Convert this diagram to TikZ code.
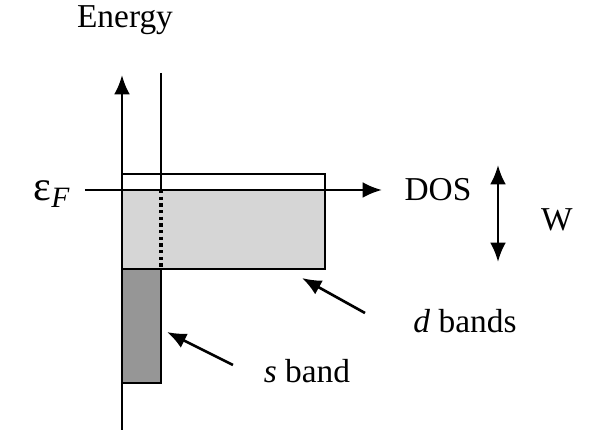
\documentclass[tikz,border=0pt]{standalone}
\usepackage{fontspec}
\setmainfont{Liberation Serif}
\usetikzlibrary{arrows.meta}
\definecolor{dbandGray}{RGB}{214,214,214}
\definecolor{sbandGray}{RGB}{150,150,150}

\begin{document}
\begin{tikzpicture}[line width=1.5pt,
  lbl/.style={font=\fontsize{19}{22}\selectfont, inner sep=0pt},
  tip/.style={-{Latex[length=11pt,width=9pt]}}]
  \useasboundingbox (-2.44,-5.1) rectangle (9.54,3.8);

  % 1. Bands
  \fill[dbandGray] (0,0) rectangle (4.06,-1.58);
  \fill[sbandGray] (0,-1.58) rectangle (0.78,-3.86);
  \draw (0,0.32) rectangle (4.06,-1.58);
  \draw (0,-1.58) rectangle (0.78,-3.86);

  % 2. Axes
  \coordinate (ebot) at (0,-4.8);
  \coordinate (etop) at (0,2.3);
  \coordinate (dleft) at (-0.74,0);
  \coordinate (dright) at (5.2,0);
  \draw[tip] (ebot) -- (etop);
  \draw[tip] (dleft) -- (dright);
  \draw (0.78,2.34) -- (0.78,0);
  \draw[dotted, line width=1.8pt] (0.78,0) -- (0.78,-1.58);

  % 3. Labels
  \node[lbl] (energy) at (0.06,3.4) {Energy};
  \node[lbl, font=\fontsize{24}{26}\selectfont] (fermi) at (-1.4,-0.08) {ε\textsubscript{\textit{F}}};
  \node[lbl] (dos) at (6.32,0) {DOS};
  \node[lbl] (wlabel) at (8.7,-0.6) {W};
  \node[lbl] (dband) at (6.86,-2.62) {\textit{d} bands};
  \node[lbl] (sband) at (3.7,-3.62) {\textit{s} band};

  % 4. Width W
  \coordinate (wtop) at (7.52,0.5);
  \coordinate (wbot) at (7.52,-1.44);
  \draw[{Latex[length=11pt,width=9pt]}-{Latex[length=11pt,width=9pt]}] (wtop) -- (wbot);

  % 5. Pointers
  \coordinate (dtail) at (4.86,-2.46);
  \coordinate (dtip) at (3.6,-1.76);
  \coordinate (stail) at (2.22,-3.5);
  \coordinate (stip) at (0.9,-2.84);
  \draw[tip] (dtail) -- (dtip);
  \draw[tip] (stail) -- (stip);
\end{tikzpicture}
\end{document}
